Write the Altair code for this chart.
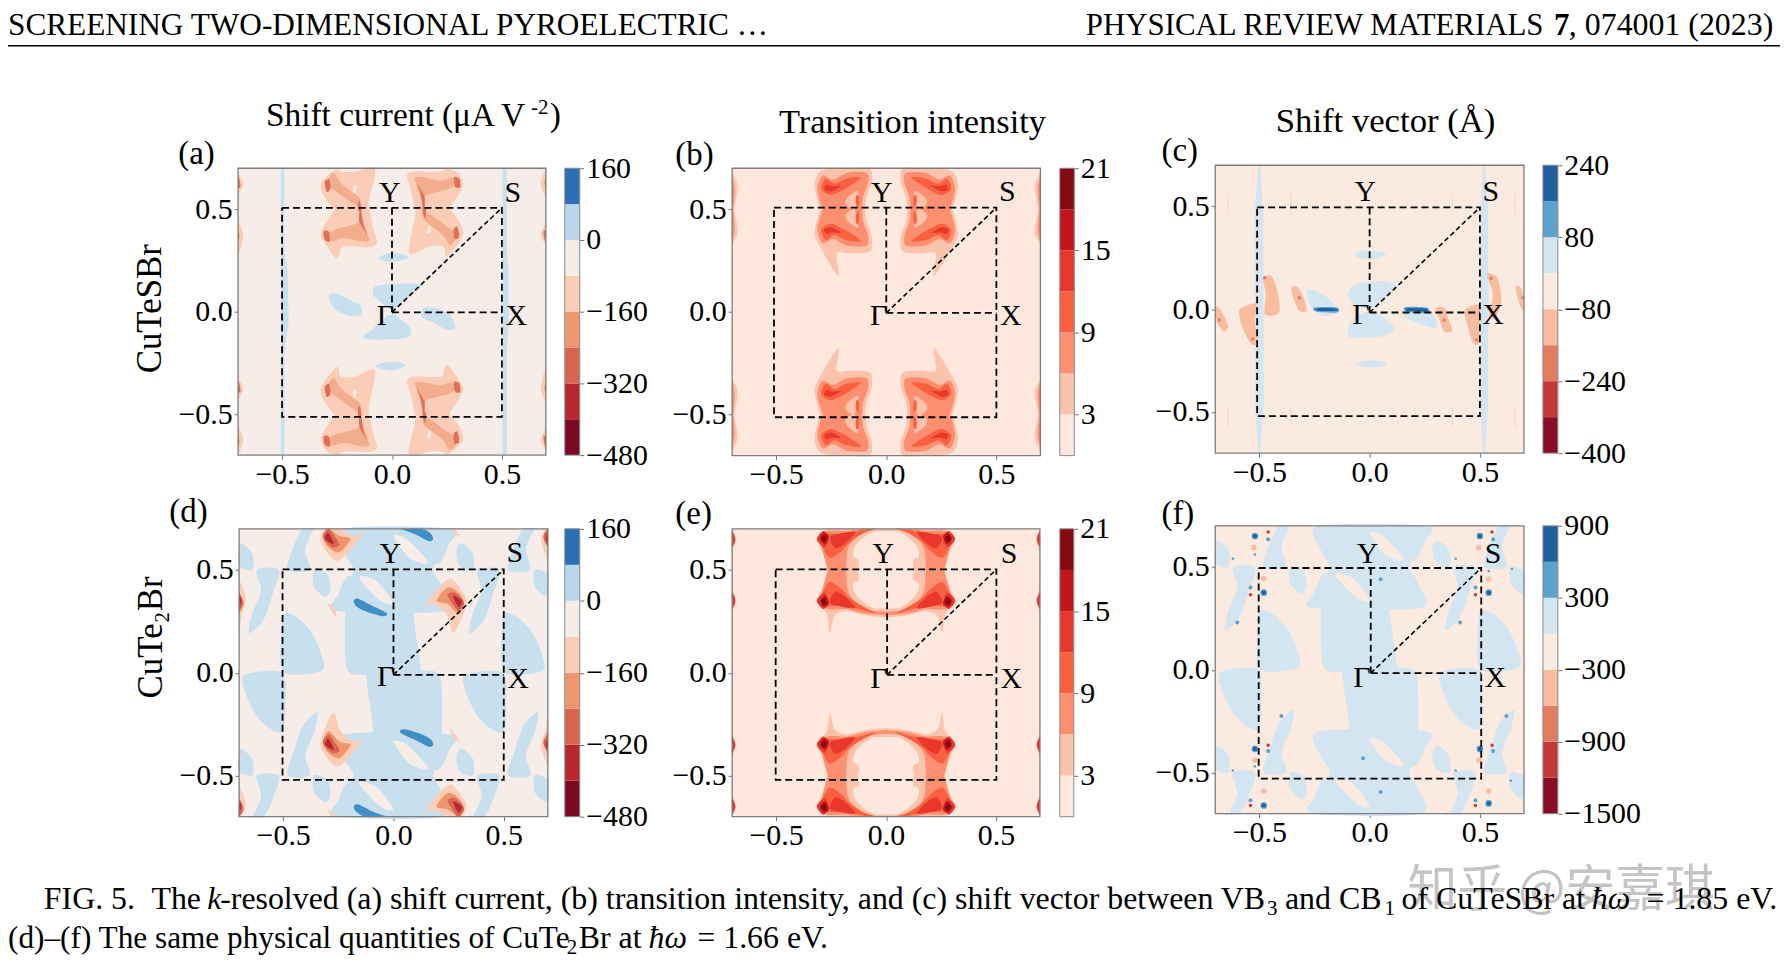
import altair as alt
import pandas as pd

W, H = 1780, 953
SERIF = "Liberation Serif"

# ---- colour bands, lowest band first ----
RDBU_A = ["#7d0823", "#b8272f", "#d96550", "#f0966f", "#fbcdb6", "#f6ede8", "#b9d7ea", "#2b6fb4"]
RDBU_C = ["#8a0d28", "#c5393a", "#e37d60", "#f8bc9e", "#faeadf", "#d3e5f0", "#5da2cd", "#215f9f"]
REDS = ["#fee8dd", "#fcc3ac", "#fc8f6f", "#f9603f", "#ea372b", "#c3151c", "#860811"]
EDGE_A = [-480, -400, -320, -240, -160, -80, 0, 80, 160]
EDGE_C = [-400, -320, -240, -160, -80, 0, 80, 160, 240]
EDGE_F = [-1500, -1200, -900, -600, -300, 0, 300, 600, 900]
EDGE_R = [0, 3, 6, 9, 12, 15, 18, 21]
TICK_A = [-480, -320, -160, 0, 160]
TICK_C = [-400, -240, -80, 80, 240]
TICK_F = [-1500, -900, -300, 300, 900]
TICK_R = [3, 9, 15, 21]
STREAK = "#3f8fc5"
MAP_BLUE = "#c8dfee"
HAIR = "#f7d3bf"
LOBE_MID = "#f3ac8c"
LOBE_DARK = "#dc7059"

# ---- panel (a): contour outlines read in k space ----
A_UL_2 = [(-.225,.53),(-.297,.44),(-.324,.375),(-.297,.32),(-.251,.259),(-.227,.314),(-.187,.319),(-.104,.315),(-.068,.335),(-.086,.407),(-.12,.53)]
A_UL_3 = [(-.16,.43),(-.26,.40),(-.295,.375),(-.27,.345),(-.22,.36),(-.15,.345),(-.105,.345),(-.115,.39),(-.14,.47)]
A_UL_4 = [(-.148,.49),(-.148,.44),(-.125,.395),(-.112,.375),(-.13,.42),(-.14,.49)]
A_UL_4B = [(-.311,.391),(-.288,.391),(-.282,.343),(-.306,.351)]
A_LL_2 = [(-.251,-.269),(-.324,-.374),(-.297,-.454),(-.225,-.53),(-.12,-.53),(-.104,-.454),(-.077,-.285),(-.168,-.317),(-.233,-.317)]
A_LL_HOLE = [(-.175,-.385),(-.16,-.385),(-.165,-.415),(-.175,-.42)]
A_LL_3 = [(-.265,-.325),(-.3,-.374),(-.265,-.405),(-.15,-.49),(-.145,-.45),(-.19,-.41),(-.235,-.37)]
A_LL_4 = [(-.306,-.366),(-.285,-.355),(-.28,-.40),(-.297,-.415)]
A_LL_4B = [(-.15,-.455),(-.138,-.505),(-.155,-.505)]
A_B_TOP = [(-.059,.266),(.005,.287),(.075,.266),(.024,.246),(-.031,.246)]
A_B_MID = [(-.086,.085),(-.068,.126),(.07,.137),(.134,.126),(.088,.085),(.005,.013),(-.049,.045)]
A_B_LEFT = [(-.288,.077),(-.251,.089),(-.187,.053),(-.141,.029),(-.141,-.019),(-.196,-.019),(-.26,.013)]
A_STRIP_L = [(-.505,.70),(-.49,.70),(-.49,.3),(-.475,.2),(-.47,-.05),(-.49,-.2),(-.49,-.70),(-.505,-.70)]
A_STRIP_R = [(.503,.70),(.522,.70),(.522,.3),(.53,.2),(.53,-.05),(.522,-.2),(.522,-.70),(.503,-.70)]

# ---- panel (b) ----
B_1 = [(-.27,.55),(-.325,.395),(-.30,.315),(-.217,.175),(-.225,.285),(-.16,.285),(-.075,.295),(-.065,.362),(-.09,.443),(-.115,.55)]
B_2 = [(-.265,.53),(-.312,.41),(-.29,.335),(-.241,.355),(-.176,.322),(-.09,.322),(-.082,.37),(-.105,.44),(-.125,.53)]
B_PALE = [(-.184,.476),(-.144,.50),(-.128,.411),(-.176,.443)]
B_3 = [(-.295,.40),(-.25,.43),(-.18,.395),(-.115,.345),(-.18,.35),(-.235,.375),(-.275,.35)]
B_4 = [(-.282,.403),(-.25,.412),(-.205,.385),(-.245,.388),(-.272,.38)]
B_NECK = [(-.136,.43),(-.125,.44),(-.125,.49),(-.138,.47)]

# ---- panel (c) ----
C_B_TOP = [(-.063,.274),(.006,.285),(.074,.269),(.015,.242),(-.05,.25)]
C_B_UP = [(-.096,.081),(-.059,.121),(.052,.137),(.122,.113),(.07,.056),(-.004,0),(-.087,.04)]
C_B_LOW = [(-.096,-.105),(-.078,-.048),(.015,-.008),(.089,-.065),(.116,-.097),(.043,-.134),(-.087,-.137)]
C_B_LEFT = [(-.285,.089),(-.226,.081),(-.17,.032),(-.148,-.016),(-.207,-.032),(-.262,.008)]
C_B_RIGHT = [(.163,-.008),(.237,.008),(.301,-.048),(.301,-.092),(.237,-.073),(.163,-.04)]
C_B_BOT = [(-.063,-.266),(.006,-.247),(.079,-.266),(.033,-.282),(-.041,-.279)]
C_STRIP_L = [(-.505,.70),(-.495,.70),(-.482,.45),(-.48,-.45),(-.495,-.70),(-.505,-.70),(-.52,-.45),(-.521,.45)]
C_STRIP_R = [(.515,.70),(.525,.70),(.538,.45),(.538,-.45),(.525,-.70),(.515,-.70),(.5,-.45),(.5,.45)]
C_MID_L = [(-.248,.008),(-.148,.008),(-.148,-.016),(-.244,-.011)]
C_DARK_L = [(-.235,.005),(-.152,.002),(-.155,-.008),(-.235,-.008)]
C_MID_R = [(.163,.011),(.259,.008),(.264,-.019),(.166,-.011)]
C_DARK_R = [(.172,.005),(.255,.002),(.255,-.011),(.172,-.008)]
C_R1 = [(-.592,-.008),(-.549,.021),(-.512,.024),(-.521,-.056),(-.508,-.161),(-.536,-.169),(-.577,-.089)]
C_R2 = [(-.484,.153),(-.447,.161),(-.42,.097),(-.41,-.016),(-.475,-.024),(-.47,.073)]
C_R3 = [(-.355,.105),(-.327,.108),(-.299,.056),(-.285,-.008),(-.318,-.008),(-.346,.056)]
C_R4 = [(-.70,.008),(-.678,0),(-.641,-.081),(-.66,-.108),(-.691,-.065)]
C_R5 = [(.301,.005),(.338,.008),(.357,-.048),(.375,-.105),(.338,-.108),(.314,-.04)]
C_R6 = [(.431,-.008),(.477,.021),(.499,.008),(.495,-.161),(.468,-.161),(.449,-.097)]
C_R7 = [(.532,.169),(.579,.153),(.597,.04),(.569,-.04),(.542,-.024),(.56,.073)]
C_R8 = [(.662,.108),(.689,.097),(.70,-.008),(.68,.024)]
C_DOTS_X = [-.475,-.318,-.682,-.53,.338,.486,.551,.695]
C_DOTS_Y = [.153,.056,-.053,-.145,-.053,-.15,.15,.056]
C_HAIR_X = [-.641,-.357,.375,.66]
C_HAIR_TOP = (.56,.46)
C_HAIR_BOT = (-.47,-.575)

# ---- panels (d) and (f): shared blue regions ----
D_CENTRE = [(-.21,.02),(-.22,.13),(-.215,.41),(-.18,.50),(-.22,.58),(-.23,.70),(.255,.70),(.25,.62),(.205,.53),(.12,.54),(.10,.42),(.09,.33),(.10,.20),(.12,.05),(.10,0),(-.16,-.01)]
D_GAP = [(0,.665),(.06,.65),(.15,.55),(.14,.53),(.07,.56)]
D_LEFT = [(-.50,.285),(-.445,.275),(-.38,.21),(-.33,.10),(-.325,.01),(-.495,0),(-.51,.16)]
D_SMALL = [(-.36,.50),(-.30,.48),(-.285,.405),(-.31,.37),(-.36,.42)]
D_TALL = [(-.453,-.387),(-.41,-.257),(-.345,-.193),(-.36,-.29),(-.40,-.40),(-.38,-.50),(-.48,-.50)]
D_STREAK = [(-.18,.35),(-.16,.36),(-.095,.325),(-.03,.29),(-.05,.275),(-.13,.30),(-.17,.325)]
D_R2 = [(.14,.32),(.21,.42),(.265,.455),(.33,.36),(.31,.27),(.27,.195),(.24,.285),(.18,.335)]
D_R3 = [(.195,.35),(.245,.415),(.295,.39),(.32,.34),(.295,.285),(.245,.335)]
D_R4 = [(.245,.38),(.28,.39),(.32,.34),(.295,.30),(.265,.34)]
D_R5 = [(.27,.375),(.31,.35),(.295,.32)]
D_RSMALL = [(-.30,.34),(-.265,.31),(-.26,.27),(-.28,.30)]

# ---- panel (e) ----
E_1 = [(-.25,.55),(-.28,.43),(-.315,.35),(-.27,.285),(-.255,.195),(-.235,.275),(-.18,.30),(-.10,.28),(-.015,.27),(.005,.27),(.005,.31),(-.06,.315),(-.12,.36),(-.15,.42),(-.125,.55)]
E_2 = [(-.25,.53),(-.30,.35),(-.265,.31),(-.18,.31),(-.105,.29),(.005,.28),(.005,.295),(-.075,.305),(-.145,.35),(-.175,.405),(-.19,.53)]
E_3 = [(-.26,.44),(-.30,.35),(-.27,.325),(-.18,.325),(-.105,.305),(-.045,.29),(-.10,.32),(-.165,.365),(-.205,.41)]
E_4 = [(-.23,.395),(-.255,.34),(-.195,.32),(-.14,.315),(-.18,.365)]
E_4B = [(-.315,.35),(-.28,.39),(-.26,.34),(-.285,.31)]
E_5 = [(-.30,.35),(-.275,.375),(-.26,.335),(-.285,.32)]
E_6 = [(-.295,.35),(-.28,.365),(-.27,.34),(-.285,.33)]

# ---- panel (f) spots ----
F_BIG_X = [-.52,-.48,.50,.54,-.52,.50,-.48,.54]
F_BIG_Y = [.65,.375,.65,.375,-.385,-.385,-.66,-.65]
F_SMALL_X = [-.46,-.54,-.60,.05,.56,.48,.41,-.40,-.46,-.54,-.03,.05,.62,.56,.48]
F_SMALL_Y = [.635,.40,.23,.44,.635,.40,.23,-.225,-.395,-.635,-.43,-.595,-.225,-.395,-.635]
F_TINY_X = [-.52,-.62,.39,.54,.645,-.62,-.52,.39,.64]
F_TINY_Y = [.56,.54,.54,.48,.49,-.49,-.47,-.49,-.54]
F_ORANGE_X = [-.525,-.48,.495,.54,-.52,-.48,.495,.54]
F_ORANGE_Y = [.595,.445,.595,.44,-.44,-.59,-.44,-.59]
F_RED_X = [-.46,-.54,.555,.48,-.46,-.54,.555,.48]
F_RED_Y = [.67,.365,.67,.365,-.367,-.66,-.367,-.66]

# ---- dashed k-path: left, right, top, bottom, y of Gamma-X, x of Gamma-Y ----
BOX = dict(a=[-.50,.50,.507,-.513,-.003,0], b=[-.51,.50,.508,-.513,-.005,0], c=[-.51,.50,.495,-.52,-.016,0],
           d=[-.503,.50,.503,-.521,-.01,0], e=[-.502,.502,.503,-.521,-.01,.005], f=[-.503,.506,.495,-.529,-.016,.005])
SYM_TEXT = ["Y", "S", "Γ", "X"]
SYM_X = dict(a=[-.01,.55,-.03,.565], b=[-.02,.55,-.035,.565], c=[-.02,.55,-.04,.56], d=[-.015,.55,-.035,.565], e=[-.012,.56,-.033,.57], f=[-.01,.56,-.035,.57])
SYM_Y = dict(a=[.58,.58,-.02,-.02], b=[.58,.585,-.02,-.02], c=[.57,.57,-.03,-.03], d=[.575,.58,-.02,-.03], e=[.575,.575,-.03,-.03], f=[.565,.565,-.04,-.04])

# ---- frame layout in page pixels: x0, x1, y0, y1 of the map; x0, x1 of the colour bar ----
LAY = dict(a=[239,548,167,455,567,582], b=[735,1044.5,167,455.5,1064,1078.5], c=[1220,1530,164,453,1549,1564],
           d=[240,550,529,818,567,582], e=[735,1044,529,818,1064,1078], f=[1220,1530,526,815,1549,1564])


def inv(pts):
    out = []
    for s in (1, -1):
        for dx in (-1, 0, 1):
            for dy in (-1, 0, 1):
                out.append([(s * x + dx, s * y + dy) for x, y in pts])
    return out


def mir(pts):
    out = []
    for sx in (1, -1):
        for sy in (1, -1):
            for dx in (-1, 0, 1):
                for dy in (-1, 0, 1):
                    out.append([(sx * x + dx, sy * y + dy) for x, y in pts])
    return out


def one(pts):
    return [pts]


def table(spec):
    rows, pid, seen = [], 0, set()
    for colour, pts, orbit in spec:
        for poly in orbit(pts):
            xs = [p[0] for p in poly]
            ys = [p[1] for p in poly]
            if max(xs) < -.7 or min(xs) > .7 or max(ys) < -.7 or min(ys) > .7:
                continue
            key = (colour, round(sum(xs), 3), round(sum(ys), 3))
            if key in seen:
                continue
            seen.add(key)
            for i, (x, y) in enumerate(poly):
                rows.append(dict(x=x, y=y, poly=f"p{pid:04d}", i=i, colour=colour))
            pid += 1
    return pd.DataFrame(rows)


a, c, r = RDBU_A, RDBU_C, REDS
A_FLAT = [(MAP_BLUE,A_STRIP_L,one),(MAP_BLUE,A_STRIP_R,one)]
A_SPEC = [(MAP_BLUE,A_B_TOP,inv),(MAP_BLUE,A_B_MID,inv),(MAP_BLUE,A_B_LEFT,inv),
          (a[4],A_UL_2,inv),(a[4],A_LL_2,inv),(a[5],A_LL_HOLE,inv),(LOBE_MID,A_UL_3,inv),(LOBE_MID,A_LL_3,inv),
          (LOBE_DARK,A_UL_4,inv),(LOBE_DARK,A_UL_4B,inv),(LOBE_DARK,A_LL_4,inv),(LOBE_DARK,A_LL_4B,inv)]
B_SPEC = [(r[1],B_1,mir),(r[2],B_2,mir),(r[1],B_PALE,mir),(r[3],B_3,mir),(r[4],B_4,mir),(r[3],B_NECK,mir)]
C_FLAT = [(c[5],C_STRIP_L,one),(c[5],C_STRIP_R,one)]
for hx in C_HAIR_X:
    for lo_hi in (C_HAIR_TOP, C_HAIR_BOT):
        C_FLAT.append((HAIR, [(hx-.002,lo_hi[0]),(hx+.002,lo_hi[0]),(hx+.002,lo_hi[1]),(hx-.002,lo_hi[1])], one))
C_SPEC = [(c[5],p,one) for p in [C_B_TOP,C_B_UP,C_B_LOW,C_B_LEFT,C_B_RIGHT,C_B_BOT]]
C_SPEC += [(c[6],C_MID_L,one),(c[6],C_MID_R,one),(c[7],C_DARK_L,one),(c[7],C_DARK_R,one)]
C_SPEC += [(c[3],p,one) for p in [C_R1,C_R2,C_R3,C_R4,C_R5,C_R6,C_R7,C_R8]]
D_SPEC = [(MAP_BLUE,D_CENTRE,inv),(a[5],D_GAP,inv),(MAP_BLUE,D_LEFT,inv),(MAP_BLUE,D_SMALL,inv),(MAP_BLUE,D_TALL,inv),(STREAK,D_STREAK,inv),
          (a[4],D_R2,inv),(a[3],D_R3,inv),(a[2],D_R4,inv),(a[1],D_R5,inv),(a[4],D_RSMALL,inv)]
E_SPEC = [(r[1],E_1,mir),(r[2],E_2,mir),(r[3],E_3,mir),(r[4],E_4,mir),(r[4],E_4B,mir),(r[5],E_5,mir),(r[6],E_6,mir)]
F_SPEC = [(c[5],D_CENTRE,inv),(c[4],D_GAP,inv),(c[5],D_LEFT,inv),(c[5],D_SMALL,inv),(c[5],D_TALL,inv)]

PANELS = [
    ("a", A_SPEC, A_FLAT, a[5], EDGE_A, a, TICK_A),
    ("b", B_SPEC, [], r[0], EDGE_R, r, TICK_R),
    ("c", C_SPEC, C_FLAT, c[4], EDGE_C, c, TICK_C),
    ("d", D_SPEC, [], a[5], EDGE_A, a, TICK_A),
    ("e", E_SPEC, [], r[0], EDGE_R, r, TICK_R),
    ("f", F_SPEC, [], c[4], EDGE_F, c, TICK_F),
]

layers = []
ONE = pd.DataFrame({"n": [0]})
AX = dict(labelFont=SERIF, labelFontSize=30, labelColor="black", grid=False, domain=False, tickColor="#6e6e6e",
          tickSize=4, title=None, labelOverlap=False, labelFlush=False)
DOM = [-.7, .7]


def spots(xs, ys, size, colour, sx, sy):
    df = pd.DataFrame({"x": xs, "y": ys})
    return alt.Chart(df).mark_circle(size=size, color=colour, opacity=1).encode(
        x=alt.X("x:Q", scale=sx, axis=None), y=alt.Y("y:Q", scale=sy, axis=None))


for name, spec, flat, bg, edges, colours, ticks in PANELS:
    x0, x1, y0, y1, cx0, cx1 = LAY[name]
    sx = alt.Scale(domain=DOM, range=[x0 - 8, x1 - 8], clamp=True, nice=False, zero=False)
    sy = alt.Scale(domain=DOM, range=[y1 - 8, y0 - 8], clamp=True, nice=False, zero=False)
    rect = pd.DataFrame({"x0": [DOM[0]], "x1": [DOM[1]], "y0": [DOM[0]], "y1": [DOM[1]]})
    layers.append(alt.Chart(rect).mark_rect(color=bg).encode(
        x=alt.X("x0:Q", scale=sx, axis=alt.Axis(orient="bottom", offset=(y1 - 8) - H, values=[-.5, 0, .5], format=".1f", labelPadding=0, **AX)),
        x2="x1:Q",
        y=alt.Y("y0:Q", scale=sy, axis=alt.Axis(orient="left", offset=-(x0 - 8), values=[-.5, 0, .5], format=".1f", labelPadding=2, **AX)),
        y2="y1:Q"))
    if flat:
        layers.append(alt.Chart(table(flat)).mark_line(interpolate="linear-closed", strokeWidth=0).encode(
            x=alt.X("x:Q", scale=sx, axis=None), y=alt.Y("y:Q", scale=sy, axis=None),
            fill=alt.Fill("colour:N", scale=None), detail="poly:N", order="i:Q"))
    layers.append(alt.Chart(table(spec)).mark_line(interpolate="cardinal-closed", tension=0.15, strokeWidth=0).encode(
        x=alt.X("x:Q", scale=sx, axis=None), y=alt.Y("y:Q", scale=sy, axis=None),
        fill=alt.Fill("colour:N", scale=None), detail="poly:N", order="i:Q"))
    if name == "c":
        layers.append(spots(C_DOTS_X, C_DOTS_Y, 12, c[2], sx, sy))
    if name == "f":
        layers.append(spots(F_BIG_X, F_BIG_Y, 45, c[6], sx, sy))
        layers.append(spots(F_BIG_X, F_BIG_Y, 18, c[7], sx, sy))
        layers.append(spots(F_SMALL_X, F_SMALL_Y, 16, c[6], sx, sy))
        layers.append(spots(F_TINY_X, F_TINY_Y, 7, c[6], sx, sy))
        layers.append(spots(F_ORANGE_X, F_ORANGE_Y, 30, c[3], sx, sy))
        layers.append(spots(F_RED_X, F_RED_Y, 12, c[1], sx, sy))
    # frame
    layers.append(alt.Chart(rect).mark_rect(fillOpacity=0, stroke="#7d7d7d", strokeWidth=1.3).encode(
        x=alt.X("x0:Q", scale=sx, axis=None), x2="x1:Q", y=alt.Y("y0:Q", scale=sy, axis=None), y2="y1:Q"))
    # k-path
    L, R, T, Bt, M, V = BOX[name]
    path = pd.DataFrame({
        "x": [L, R, R, L, L, V, V, V, R], "y": [T, T, Bt, Bt, T, T, M, M, M],
        "seg": ["box"] * 5 + ["yg"] * 2 + ["gx"] * 2, "i": list(range(9))})
    layers.append(alt.Chart(path).mark_line(color="black", strokeWidth=1.8, strokeDash=[7, 4]).encode(
        x=alt.X("x:Q", scale=sx, axis=None), y=alt.Y("y:Q", scale=sy, axis=None), detail="seg:N", order="i:Q"))
    diag = pd.DataFrame({"x": [V, R], "y": [M, T]})
    layers.append(alt.Chart(diag).mark_line(color="black", strokeWidth=1.6, strokeDash=[5, 3]).encode(
        x=alt.X("x:Q", scale=sx, axis=None), y=alt.Y("y:Q", scale=sy, axis=None)))
    sym = pd.DataFrame({"x": SYM_X[name], "y": SYM_Y[name], "t": SYM_TEXT})
    layers.append(alt.Chart(sym).mark_text(font=SERIF, fontSize=30, color="black", baseline="middle").encode(
        x=alt.X("x:Q", scale=sx, axis=None), y=alt.Y("y:Q", scale=sy, axis=None), text="t:N"))
    # colour bar
    bar = pd.DataFrame({"lo": edges[:-1], "hi": edges[1:], "colour": colours})
    sc = alt.Scale(domain=[edges[0], edges[-1]], range=[y1 - 8, y0 - 8], nice=False, zero=False)
    layers.append(alt.Chart(bar).mark_rect().encode(
        x=alt.value(cx0 - 8), x2=alt.value(cx1 - 8),
        y=alt.Y("lo:Q", scale=sc, axis=alt.Axis(orient="right", offset=(cx1 - 8) - W, values=ticks, format="d", labelPadding=2, **AX)),
        y2="hi:Q", fill=alt.Fill("colour:N", scale=None)))
    whole = pd.DataFrame({"lo": [edges[0]], "hi": [edges[-1]]})
    layers.append(alt.Chart(whole).mark_rect(fillOpacity=0, stroke="#8a8a8a", strokeWidth=1).encode(
        x=alt.value(cx0 - 8), x2=alt.value(cx1 - 8),
        y=alt.Y("lo:Q", scale=sc, axis=None), y2="hi:Q"))


def text(s, x, y, size, align="left", angle=0, baseline="alphabetic", font=SERIF, style="normal", weight="normal", colour="black"):
    kw = dict(font=font, fontSize=size, align=align, baseline=baseline, color=colour, fontStyle=style, fontWeight=weight)
    if angle:
        kw["angle"] = angle
    layers.append(alt.Chart(ONE).mark_text(**kw).encode(x=alt.value(x - 8), y=alt.value(y - 8), text=alt.value(s)))


# watermark sits under the caption
text("知乎 @安嘉琪", 1413, 908, 50, font="Noto Sans CJK SC", colour="#c4c4c4")

# running head
text("SCREENING TWO-DIMENSIONAL PYROELECTRIC  …", 8, 33, 31.4)
text("PHYSICAL REVIEW MATERIALS", 1090, 33, 31)
text("7", 1560, 33, 31, weight="bold")
text(", 074001 (2023)", 1575, 33, 32)
layers.append(alt.Chart(ONE).mark_rule(color="black", strokeWidth=1.6).encode(
    x=alt.value(0), x2=alt.value(W - 1), y=alt.value(36), y2=alt.value(36)))

# column titles
text("Shift current (μA V", 267, 125, 33.5)
text("-2", 533, 113, 21)
text(")", 552, 125, 33.5)
text("Transition intensity", 916, 132, 34.5, align="center")
text("Shift vector (Å)", 1391, 131, 34.8, align="center")

# panel letters
for s, x, y in [("(a)", 179, 163), ("(b)", 678, 164), ("(c)", 1166, 160), ("(d)", 170, 522), ("(e)", 678, 524), ("(f)", 1166, 524)]:
    text(s, x, y, 33)

# row titles
text("CuTeSBr", 151, 308, 35, align="center", angle=270, baseline="middle")
text("CuTe₂Br", 152, 638, 35, align="center", angle=270, baseline="middle")

# caption
Y1, Y2 = 911, 950
CAP = 32
text("FIG. 5.", 44, Y1, CAP)
text("The", 152, Y1, CAP)
text("k", 208, Y1, CAP, style="italic")
text("-resolved (a) shift current, (b) transition intensity, and (c) shift vector between VB", 221, Y1, CAP)
text("3", 1272, Y1 + 6, 21)
text("and CB", 1290, Y1, CAP)
text("1", 1390, Y1 + 6, 21)
text("of CuTeSBr at", 1407, Y1, CAP)
text("ħω", 1598, Y1, CAP, style="italic")
text("= 1.85 eV.", 1653, Y1, CAP)
text("(d)–(f) The same physical quantities of CuTe", 8, Y2, 31.4)
text("2", 569, Y2 + 6, 21)
text("Br at", 581, Y2, CAP)
text("ħω", 651, Y2, CAP, style="italic")
text("= 1.66 eV.", 700, Y2, CAP)

chart = (
    alt.layer(*layers)
    .resolve_scale(x="independent", y="independent")
    .resolve_axis(x="independent", y="independent")
    .properties(width=W, height=H, padding=0, autosize=alt.AutoSizeParams(type="none"), background="white")
    .configure_view(stroke=None)
)
chart.save("out.html", embed_options={"renderer": "svg", "actions": False})
